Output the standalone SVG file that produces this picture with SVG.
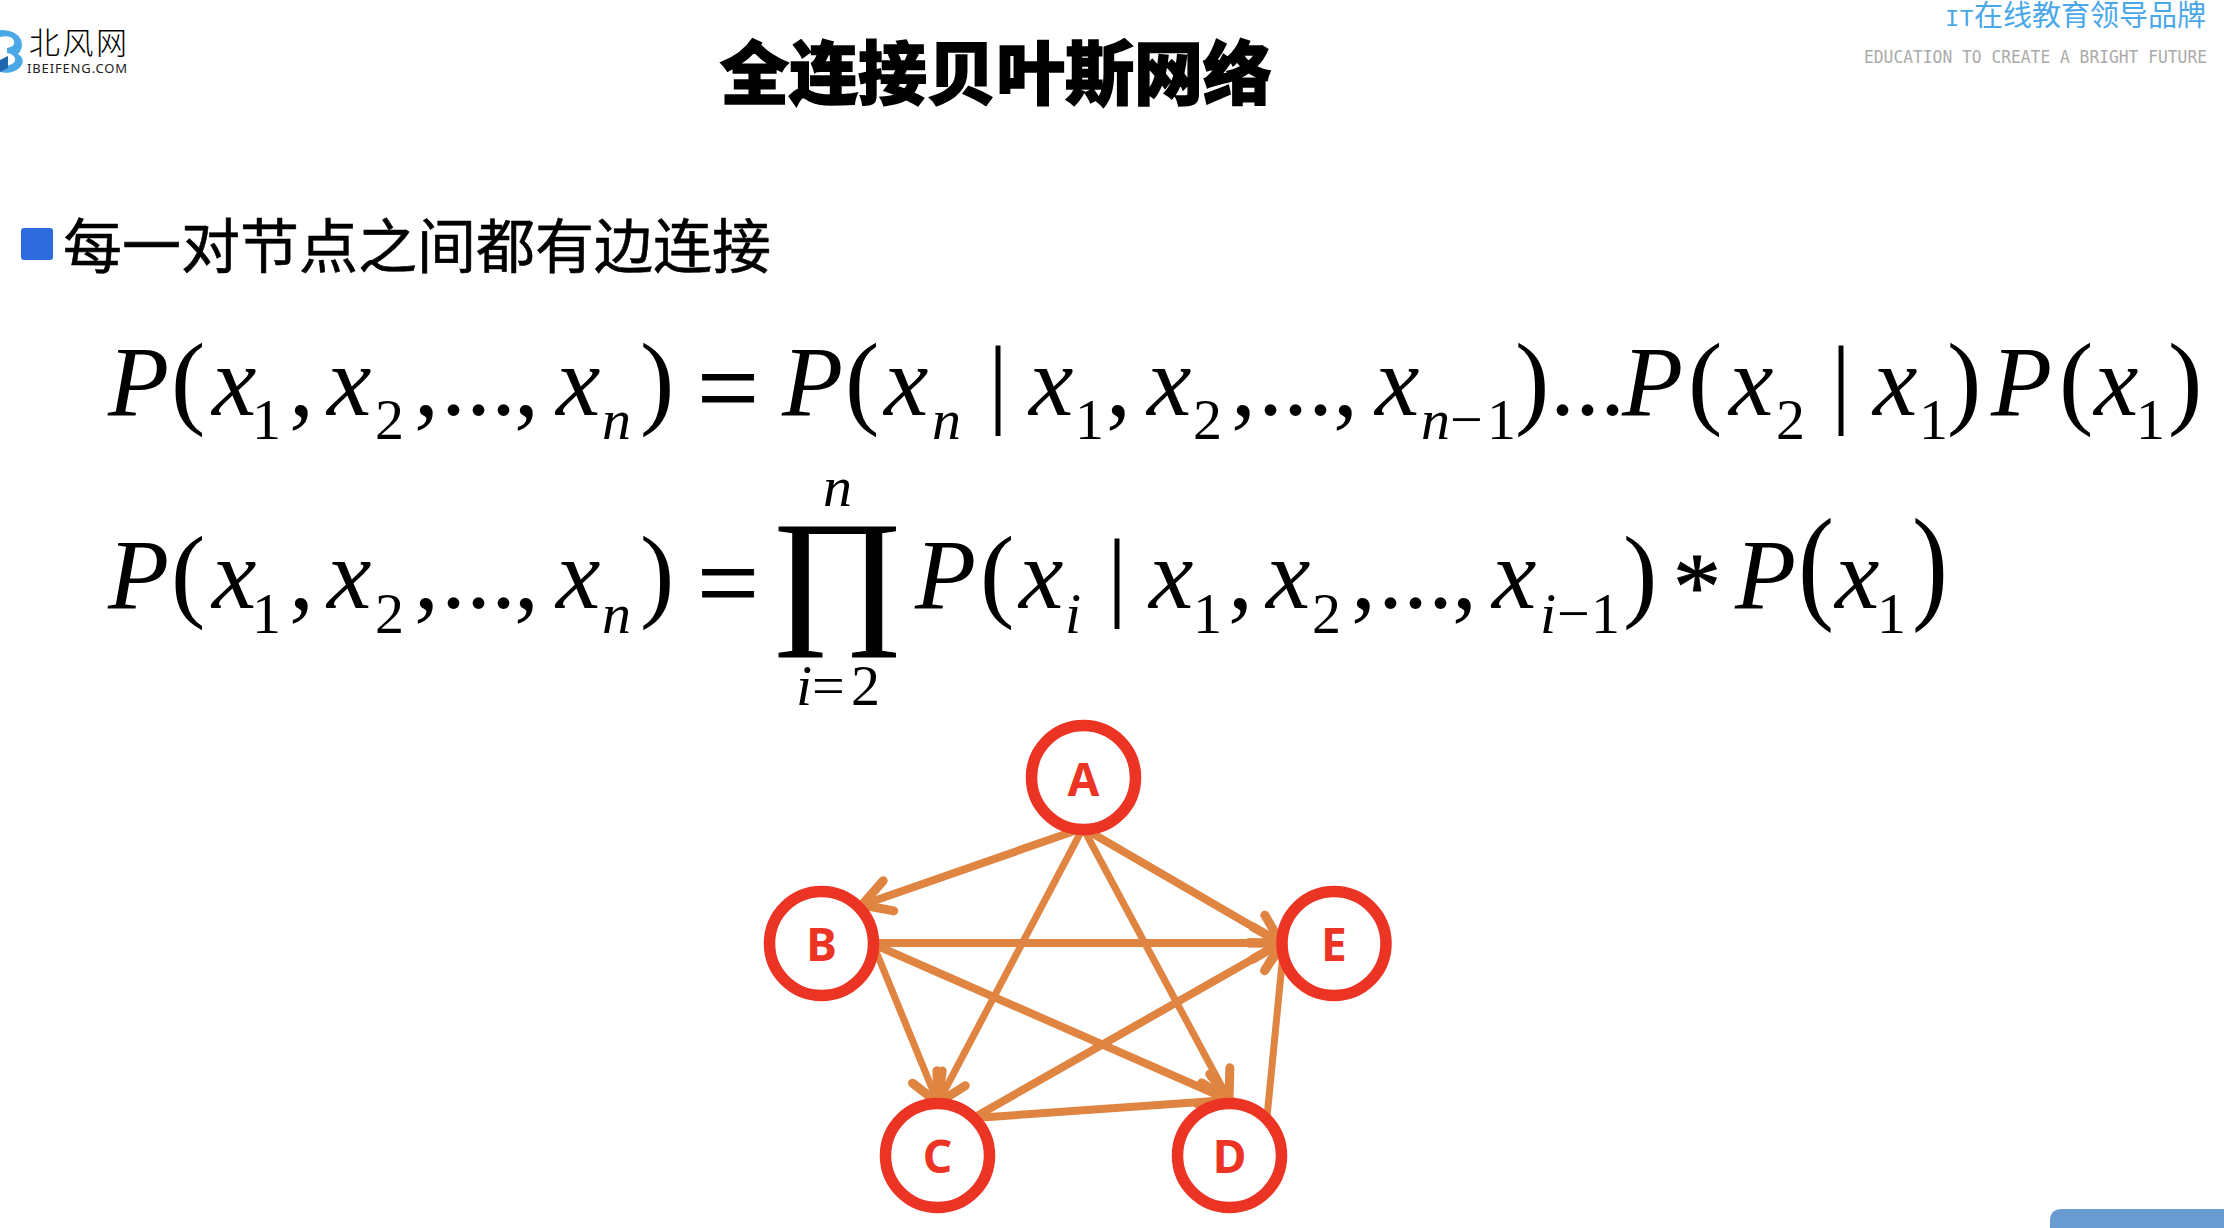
<svg xmlns="http://www.w3.org/2000/svg" width="2224" height="1228" viewBox="0 0 2224 1228">
<style>
text{font-family:"Liberation Serif","Times New Roman",serif;fill:#000}
.cjk{font-family:"Noto Sans CJK SC","Noto Sans",sans-serif}
.i{font-style:italic;font-size:100px}
.r{font-size:100px}
.p{font-size:103px}
.e{font-size:110px;stroke:#000;stroke-width:.8}
.si{font-style:italic;font-size:58px}
.sr{font-size:58px}
.bp{font-size:128px}
.n{fill:#fff;stroke:#ec3424;stroke-width:11.500}
.nt{font-family:"Noto Sans","Liberation Sans",sans-serif;font-weight:700;font-size:46px;fill:#ec3424;text-anchor:middle}
.c{stroke:#e08442;stroke-width:8;fill:none;stroke-linecap:butt;marker-end:url(#ah)}
.t{stroke-width:7}
</style>
<defs>
<marker id="ah" markerUnits="userSpaceOnUse" markerWidth="44" markerHeight="44" refX="34" refY="22" orient="auto" viewBox="0 0 44 44">
<path d="M6 6L34 22L6 38" fill="none" stroke="#e08442" stroke-width="9" stroke-linecap="round" stroke-linejoin="miter"/>
</marker>
</defs>
<rect width="2224" height="1228" fill="#fff"/>
<g id="logo">
<path d="M0 30C14 30 22 36 22 45C22 49 20 52 18 54C23 57 24 62 21 66C17 72 8 74 0 72L0 65C6 67 13 65 15 61C16 57 13 54 7 53L7 48C12 47 15 45 14 41C13 37 7 35 0 37Z" fill="#4aa8e6"/>
<path d="M0 60L8 56L8 68L0 72Z" fill="#1f66b0"/>
<text class="cjk" x="29" y="54" font-size="31" textLength="98" font-weight="300">北风网</text>
<text x="27" y="73" font-size="13" textLength="100" style="font-family:'Noto Sans','Liberation Sans',sans-serif;fill:#222">IBEIFENG.COM</text>
</g>
<g id="header">
<text class="cjk" x="720" y="99" font-size="69" font-weight="900" stroke="#000" stroke-width="1.500">全连接贝叶斯网络</text>
<text x="1945" y="26" font-size="24" style="font-family:'Liberation Mono',monospace;fill:#4aa8e8">IT</text>
<text class="cjk" x="1974" y="26" font-size="29" style="fill:#4aa8e8">在线教育领导品牌</text>
<text x="1864" y="63" font-size="17" style="font-family:'DejaVu Sans Mono',monospace;fill:#aaa" textLength="343" lengthAdjust="spacingAndGlyphs">EDUCATION TO CREATE A BRIGHT FUTURE</text>
</g>
<g id="bullet">
<rect x="21" y="228" width="32" height="32" rx="3" fill="#2e6bdc"/>
<text class="cjk" x="63" y="268" font-size="59" stroke="#000" stroke-width=".6">每一对节点之间都有边连接</text>
</g>
<g id="formula1">
<text class="i" x="108" y="415">P</text>
<text class="p" x="171" y="415">(</text>
<text class="i" x="212" y="415">x</text><text class="sr" x="252" y="439">1</text>
<text class="r" x="289" y="415">,</text>
<text class="i" x="327" y="415">x</text><text class="sr" x="375" y="439">2</text>
<text class="r" x="414" y="415">,</text>
<text class="r" x="441" y="415">...</text>
<text class="r" x="514" y="415">,</text>
<text class="i" x="556" y="415">x</text><text class="si" x="602" y="439">n</text>
<text class="p" x="640" y="415">)</text>
<text class="r e" x="697" y="425">=</text>
<text class="i" x="782" y="415">P</text>
<text class="p" x="845" y="415">(</text>
<text class="i" x="884" y="415">x</text><text class="si" x="932" y="439">n</text>
<text class="r" x="988" y="415">|</text>
<text class="i" x="1029" y="415">x</text><text class="sr" x="1075" y="439">1</text>
<text class="r" x="1106" y="415">,</text>
<text class="i" x="1147" y="415">x</text><text class="sr" x="1193" y="439">2</text>
<text class="r" x="1231" y="415">,</text>
<text class="r" x="1258" y="415">...</text>
<text class="r" x="1333" y="415">,</text>
<text class="i" x="1375" y="415">x</text><text class="si" x="1421" y="439">n</text><text class="sr" x="1450" y="439">−</text><text class="sr" x="1487" y="439">1</text>
<text class="p" x="1515" y="415">)</text>
<text class="r" x="1550" y="415">...</text>
<text class="i" x="1622" y="415">P</text>
<text class="p" x="1688" y="415">(</text>
<text class="i" x="1729" y="415">x</text><text class="sr" x="1776" y="439">2</text>
<text class="r" x="1831" y="415">|</text>
<text class="i" x="1873" y="415">x</text><text class="sr" x="1919" y="439">1</text>
<text class="p" x="1947" y="415">)</text>
<text class="i" x="1991" y="415">P</text>
<text class="p" x="2059" y="415">(</text>
<text class="i" x="2094" y="415">x</text><text class="sr" x="2136" y="439">1</text>
<text class="p" x="2168" y="415">)</text>
</g>
<g id="formula2">
<text class="i" x="108" y="608">P</text>
<text class="p" x="171" y="608">(</text>
<text class="i" x="212" y="608">x</text><text class="sr" x="252" y="633">1</text>
<text class="r" x="289" y="608">,</text>
<text class="i" x="327" y="608">x</text><text class="sr" x="375" y="633">2</text>
<text class="r" x="414" y="608">,</text>
<text class="r" x="441" y="608">...</text>
<text class="r" x="514" y="608">,</text>
<text class="i" x="556" y="608">x</text><text class="si" x="602" y="633">n</text>
<text class="p" x="640" y="608">)</text>
<text class="r e" x="697" y="620">=</text>
<text transform="translate(837 625) scale(1.090 1)" font-size="150" text-anchor="middle" stroke="#000" stroke-width="1">∏</text>
<text class="si" x="823" y="506">n</text>
<text class="si" x="796" y="705">i</text><text class="sr" x="812" y="705">=</text><text class="sr" x="851" y="705">2</text>
<text class="i" x="915" y="608">P</text>
<text class="p" x="980" y="608">(</text>
<text class="i" x="1019" y="608">x</text><text class="si" x="1065" y="633">i</text>
<text class="r" x="1107" y="608">|</text>
<text class="i" x="1149" y="608">x</text><text class="sr" x="1193" y="633">1</text>
<text class="r" x="1228" y="608">,</text>
<text class="i" x="1266" y="608">x</text><text class="sr" x="1312" y="633">2</text>
<text class="r" x="1351" y="608">,</text>
<text class="r" x="1378" y="608">...</text>
<text class="r" x="1452" y="608">,</text>
<text class="i" x="1492" y="608">x</text><text class="si" x="1540" y="633">i</text><text class="sr" x="1557" y="633">−</text><text class="sr" x="1591" y="633">1</text>
<text class="p" x="1623" y="608">)</text>
<text x="1673" y="619" font-size="96" stroke="#000" stroke-width="1">*</text>
<text class="i" x="1735" y="608">P</text>
<text class="bp" x="1798" y="606" textLength="36" lengthAdjust="spacingAndGlyphs">(</text>
<text class="i" x="1835" y="608">x</text><text class="sr" x="1877" y="633">1</text>
<text class="bp" x="1912" y="606" textLength="36" lengthAdjust="spacingAndGlyphs">)</text>
</g>
<g id="connectors">
<line class="c" x1="1083" y1="828" x2="862" y2="905"/>
<line class="c t" x1="1083" y1="828" x2="938" y2="1103"/>
<line class="c t" x1="1083" y1="828" x2="1229" y2="1100"/>
<line class="c" x1="1083" y1="828" x2="1281" y2="943"/>
<line class="c" x1="873" y1="943" x2="1281" y2="943"/>
<line class="c t" x1="873" y1="944" x2="938" y2="1103"/>
<line class="c" x1="873" y1="944" x2="1229" y2="1100"/>
<line class="c" x1="975" y1="1118" x2="1229" y2="1100"/>
<line class="c" x1="975" y1="1117" x2="1281" y2="943"/>
<line class="c t" x1="1267" y1="1117" x2="1284" y2="943"/>
</g>
<g id="node-A"><circle class="n" cx="1083.500" cy="777.500" r="52"/><text class="nt" x="1083.500" y="796">A</text></g>
<g id="node-B"><circle class="n" cx="821.500" cy="943.500" r="52"/><text class="nt" x="821.500" y="961">B</text></g>
<g id="node-E"><circle class="n" cx="1334" cy="943.500" r="52"/><text class="nt" x="1334" y="961">E</text></g>
<g id="node-C"><circle class="n" cx="937.500" cy="1155.500" r="52"/><text class="nt" x="937.500" y="1173">C</text></g>
<g id="node-D"><circle class="n" cx="1229.500" cy="1155.500" r="52"/><text class="nt" x="1229.500" y="1173">D</text></g>
<path id="corner" d="M2050 1228V1221Q2050 1209 2062 1209H2224V1228Z" fill="#6a9bd0"/>
</svg>
